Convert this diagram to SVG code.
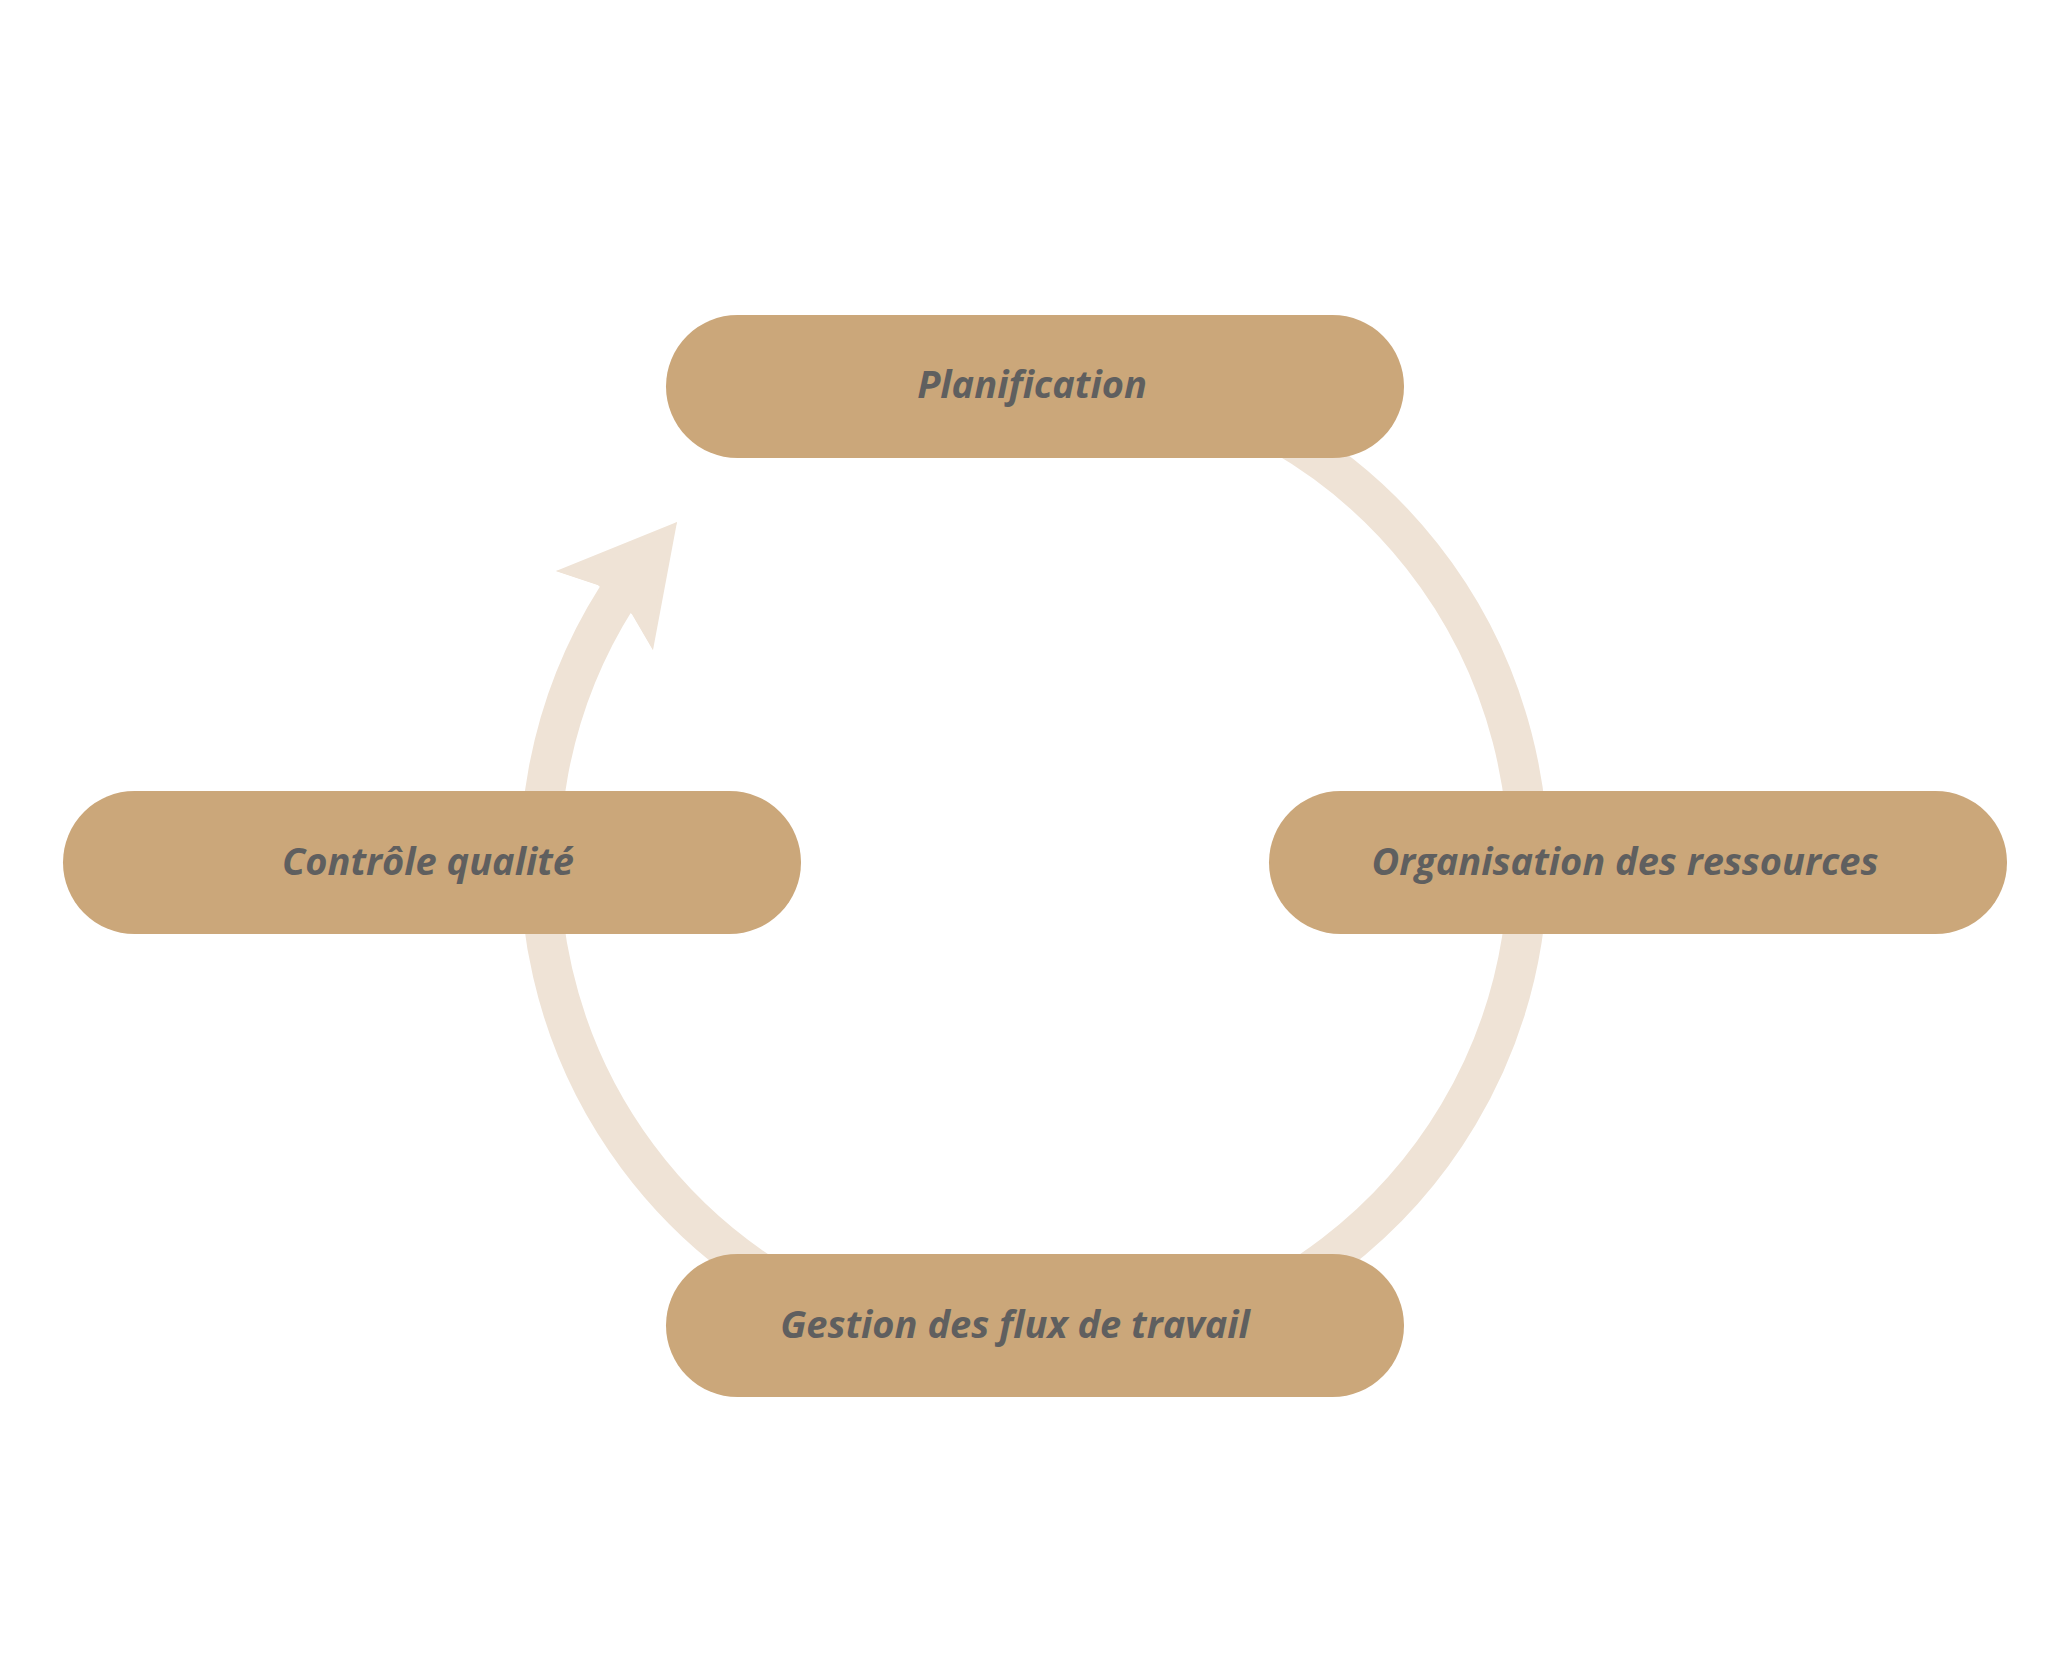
<svg xmlns="http://www.w3.org/2000/svg" width="2048" height="1672" viewBox="0 0 2048 1672">
<style>
.n{fill:#CBA77A}
.t{font-family:"Open Sans","Liberation Sans",sans-serif;font-weight:bold;font-style:italic;font-size:38px;fill:#5F5F5F;text-anchor:middle;dominant-baseline:central}
</style>
<rect width="2048" height="1672" fill="#fff"/>
<g id="connectors">
<path d="M1281,434 A494,494 0 1 1 617,597" fill="none" stroke="#EFE3D6" stroke-width="40"/>
<polygon points="677,522 556,571 598,585 632,614 653,650" fill="#EFE3D6" transform="translate(0,0)"/>
<path d="M677,522 Q620,558 556,571 L598,585 L632,614 L653,650 Q653,590 677,522Z" fill="#EFE3D6"/>
</g>
<g id="planification"><rect class="n" x="666" y="315" width="738" height="143" rx="71.5"/><text class="t" x="1032" y="383">Planification</text></g>
<g id="organisation"><rect class="n" x="1269" y="791" width="738" height="143" rx="71.5"/><text class="t" x="1625" y="860">Organisation des ressources</text></g>
<g id="gestion"><rect class="n" x="666" y="1254" width="738" height="143" rx="71.5"/><text class="t" x="1015" y="1323">Gestion des flux de travail</text></g>
<g id="controle"><rect class="n" x="63" y="791" width="738" height="143" rx="71.5"/><text class="t" x="428" y="860">Contrôle qualité</text></g>
</svg>
